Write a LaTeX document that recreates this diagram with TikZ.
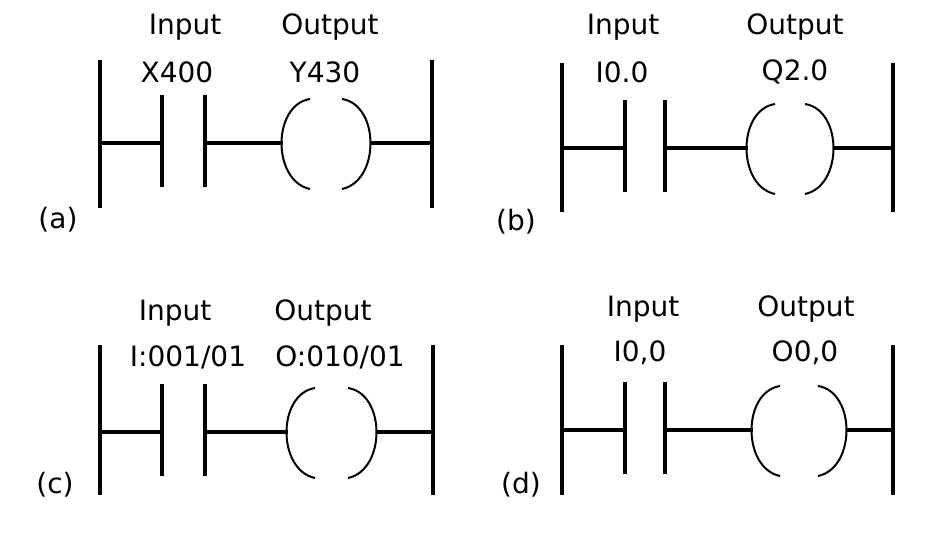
\documentclass[tikz,border=0pt]{standalone}
\usepackage{fontspec}
\setmainfont{DejaVu Sans}
\begin{document}
\begin{tikzpicture}[x=1pt,y=-1pt,line width=3.2pt,
  lbl/.style={font=\fontsize{28}{30}\selectfont,inner sep=0pt}]
\useasboundingbox (0,0) rectangle (952,537);
% #1 left rail x, #2 rail top, #3 rail bottom, #4 c1, #5 c2, #6 line y, #7 coil left, #8 coil right, #9 right rail
\newcommand\myrung[9]{%
  \draw (#1,#2) -- (#1,#3);
  \draw (#9,#2) -- (#9,#3);
  \draw (#4,#6-48) -- (#4,#6+44);
  \draw (#5,#6-48) -- (#5,#6+44);
  \draw (#1,#6) -- (#4,#6);
  \draw (#5,#6) -- (#7+3,#6);
  \draw[line width=2pt] (#7+30,#6-44) .. controls (#7-8,#6-38) and (#7-8,#6+38) .. (#7+30,#6+46);
  \draw[line width=2pt] (#8-30,#6-44) .. controls (#8+8,#6-38) and (#8+8,#6+38) .. (#8-30,#6+46);
  \draw (#8-2,#6) -- (#9,#6);
}
\myrung{100}{60}{208}{162}{205}{143}{280}{372}{432}
\myrung{562}{63}{212}{625}{665}{148}{745}{835}{893}
\myrung{100}{345}{495}{162}{205}{432}{285}{378}{433}
\myrung{562}{345}{495}{625}{665}{430}{750}{848}{893}
\node[lbl] (ia) at (185,27) {Input};
\node[lbl] (xa) at (177,72) {X400};
\node[lbl] (oa) at (330,27) {Output};
\node[lbl] (ya) at (325,72) {Y430};
\node[lbl] (pa) at (58,220) {(a)};
\node[lbl] (ib) at (623,27) {Input};
\node[lbl] (xb) at (622,72) {I0.0};
\node[lbl] (ob) at (795,27) {Output};
\node[lbl] (yb) at (795,72) {Q2.0};
\node[lbl] (pb) at (516,222) {(b)};
\node[lbl] (ic) at (175,313) {Input};
\node[lbl] (xc) at (188,357) {I:001/01};
\node[lbl] (oc) at (323,313) {Output};
\node[lbl] (yc) at (340,357) {O:010/01};
\node[lbl] (pc) at (55,485) {(c)};
\node[lbl] (id) at (643,309) {Input};
\node[lbl] (xd) at (640,353) {I0,0};
\node[lbl] (od) at (806,309) {Output};
\node[lbl] (yd) at (805,353) {O0,0};
\node[lbl] (pd) at (521,485) {(d)};
\end{tikzpicture}
\end{document}
